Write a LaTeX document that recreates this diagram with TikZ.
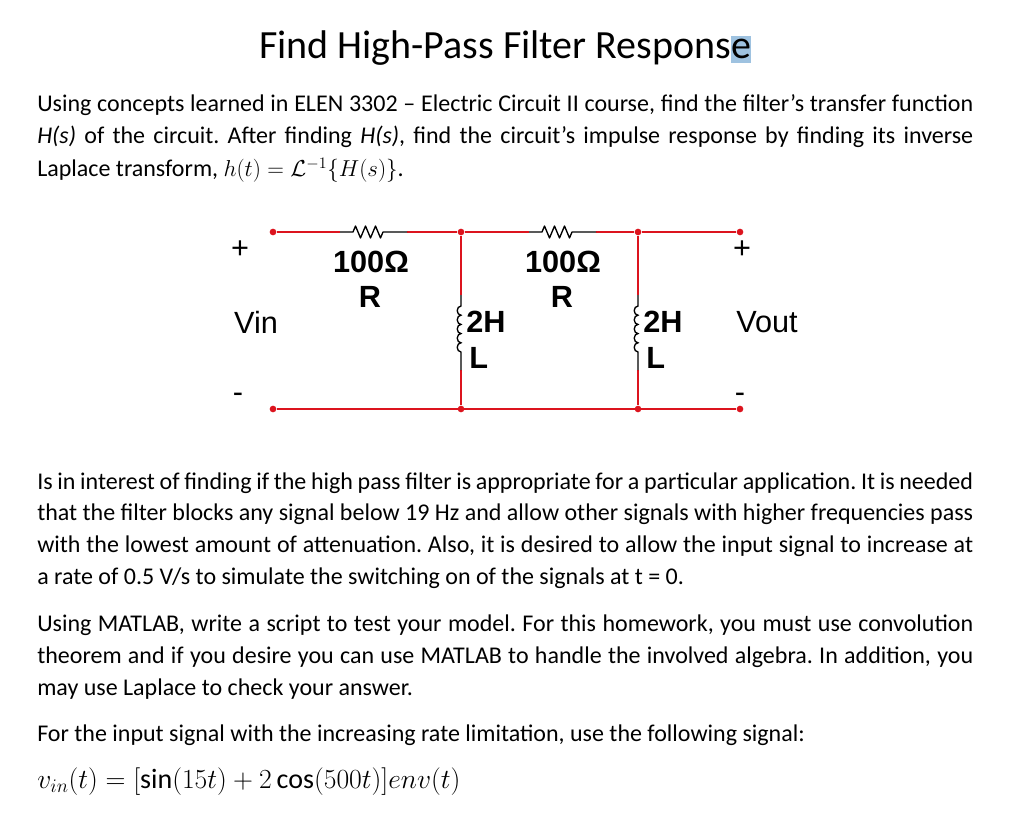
\documentclass[tikz,border=0pt]{standalone}
\usepackage{fontspec}
\setmainfont{Carlito}
\newfontfamily\arialf{Liberation Sans}
\frenchspacing
\begin{document}
\begin{tikzpicture}[x=0.75pt,y=-0.75pt,
  body/.style={anchor=base west,inner sep=0pt,font=\fontsize{18}{21}\selectfont},
  ckt/.style={inner sep=0pt,font=\arialf\fontsize{23}{25}\selectfont},
  cktb/.style={inner sep=0pt,font=\arialf\bfseries\fontsize{23}{25}\selectfont},
  wire/.style={draw={rgb,255:red,220;green,20;blue,30},line width=1.3pt},
  blk/.style={draw=black,line width=1pt},
  dot/.style={circle,fill={rgb,255:red,220;green,20;blue,30},inner sep=0pt,minimum size=5pt}]
\useasboundingbox (0,0) rectangle (1012,823);
\def\jl#1{\hbox to 702pt{#1}}
\node[anchor=base,inner sep=0pt,font=\fontsize{30}{33}\selectfont] (title) at (505,59) {Find High-Pass Filter Respons\colorbox[rgb]{0.62,0.76,0.88}{\hspace{-3pt}e\hspace{-3pt}}};
\node[body] (p1a) at (37,112) {\jl{Using concepts learned in ELEN 3302 -- Electric Circuit II course, find the filter’s transfer function}};
\node[body] (p1b) at (37,144) {\jl{\textit{H(s)} of the circuit. After finding \textit{H(s)}, find the circuit’s impulse response by finding its inverse}};
\node[body] (p1c) at (37,177) {Laplace transform, $h(t)=\mathcal{L}^{-1}\{H(s)\}$.};
\node[body] (p2a) at (37,489) {\jl{Is in interest of finding if the high pass filter is appropriate for a particular application. It is needed}};
\node[body] (p2b) at (37,520) {\jl{that the filter blocks any signal below 19 Hz and allow other signals with higher frequencies pass}};
\node[body] (p2c) at (37,552) {\jl{with the lowest amount of attenuation. Also, it is desired to allow the input signal to increase at}};
\node[body] (p2d) at (37,584) {a rate of 0.5 V/s to simulate the switching on of the signals at t = 0.};
\node[body] (p3a) at (37,631) {\jl{Using MATLAB, write a script to test your model. For this homework, you must use convolution}};
\node[body] (p3b) at (37,663) {\jl{theorem and if you desire you can use MATLAB to handle the involved algebra. In addition, you}};
\node[body] (p3c) at (37,695) {may use Laplace to check your answer.};
\node[body] (p4) at (37,741) {For the input signal with the increasing rate limitation, use the following signal:};
\node[body,font=\fontsize{21}{24}\selectfont] (p5) at (37,788) {$v_{in}(t)=[\sin(15t)+2\cos(500t)]env(t)$};
% circuit
\node[dot] (a) at (273,232) {}; \node[dot] (j1) at (461,232) {}; \node[dot] (j2) at (638,232) {}; \node[dot] (b) at (740,232) {};
\node[dot] (c) at (273,409) {}; \node[dot] (k1) at (461,409) {}; \node[dot] (k2) at (638,409) {}; \node[dot] (d) at (740,409) {};
\coordinate (r1a) at (340,232); \coordinate (r1b) at (407,232);
\coordinate (r2a) at (529,232); \coordinate (r2b) at (596,232);
\coordinate (l1a) at (461,295); \coordinate (l1b) at (461,370);
\coordinate (l2a) at (638,295); \coordinate (l2b) at (638,370);
\draw[wire] (a) -- (r1a) (r1b) -- (j1) -- (r2a) (r2b) -- (j2) -- (b);
\draw[wire] (c) -- (d);
\draw[wire] (j1) -- (l1a) (l1b) -- (k1) (j2) -- (l2a) (l2b) -- (k2);
\foreach \s/\e in {r1a/r1b,r2a/r2b}{
  \draw[blk,line join=round] (\s) -- ++(13,0) -- ++(2.5,-6) -- ++(5,12) -- ++(5,-12) -- ++(5,12) -- ++(5,-12) -- ++(5,12) -- ++(2.5,-6) -- (\e);}
\foreach \s/\e in {l1a/l1b,l2a/l2b}{
  \draw[blk] (\s) -- ++(0,11) arc(270:90:3.8 and 4.6) arc(270:90:3.8 and 4.6) arc(270:90:3.8 and 4.6) arc(270:90:3.8 and 4.6) arc(270:90:3.8 and 4.6) -- (\e);}
\node[cktb] (R1v) at (371,262) {100Ω};
\node[cktb] (R1n) at (370,297) {R};
\node[cktb] (R2v) at (563,262) {100Ω};
\node[cktb] (R2n) at (562,297) {R};
\node[cktb,anchor=west] (L1v) at (466,322) {2H};
\node[cktb,anchor=west] (L1n) at (469,358) {L};
\node[cktb,anchor=west] (L2v) at (643,322) {2H};
\node[cktb,anchor=west] (L2n) at (646,358) {L};
\node[ckt] (pl) at (240,250) {+}; \node[ckt] (vin) at (256,322) {Vin}; \node[ckt] (ml) at (238,398) {-};
\node[ckt] (pr) at (742,250) {+}; \node[ckt] (vout) at (767,322) {Vout}; \node[ckt] (mr) at (740,398) {-};
\end{tikzpicture}
\end{document}
